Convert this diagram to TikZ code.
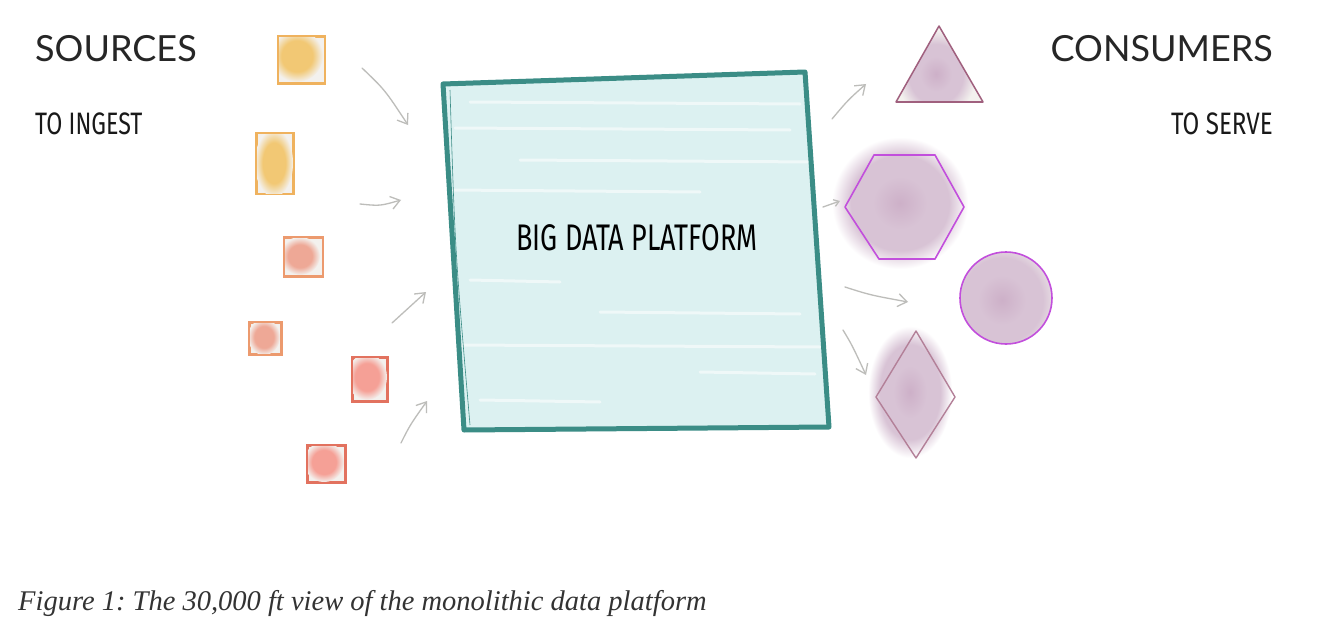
\documentclass[tikz,border=0pt]{standalone}
\usepackage{fontspec}
\setmainfont{Lato}
\newfontfamily\condfont{Fira Sans}
\newfontfamily\capserif{Liberation Serif}
\usetikzlibrary{arrows.meta}
\frenchspacing
\definecolor{teal1}{HTML}{3B8D86}
\definecolor{tealfill}{HTML}{D3EDEE}
\definecolor{srcY}{HTML}{EFB25E}
\definecolor{srcYb}{HTML}{F2C874}
\definecolor{srcO}{HTML}{EC9A6E}
\definecolor{srcOb}{HTML}{EEA896}
\definecolor{srcR}{HTML}{E2725F}
\definecolor{srcRb}{HTML}{F5A096}
\definecolor{purpB}{HTML}{A0607E}
\definecolor{purpV}{HTML}{C24FDC}
\definecolor{blob}{HTML}{D8C3D5}
\definecolor{blobd}{HTML}{CDB0C8}
\definecolor{arrowgrey}{HTML}{BDBDBA}
\definecolor{boxbg}{HTML}{F3F1EE}
\pgfdeclareradialshading{shY}{\pgfpointorigin}{color(0bp)=(srcYb); color(15bp)=(srcYb); color(25bp)=(boxbg); color(50bp)=(boxbg)}
\pgfdeclareradialshading{shO}{\pgfpointorigin}{color(0bp)=(srcOb); color(15bp)=(srcOb); color(25bp)=(boxbg); color(50bp)=(boxbg)}
\pgfdeclareradialshading{shR}{\pgfpointorigin}{color(0bp)=(srcRb); color(15bp)=(srcRb); color(25bp)=(boxbg); color(50bp)=(boxbg)}
\pgfdeclareradialshading{shP}{\pgfpointorigin}{color(0bp)=(blobd); color(10bp)=(blob); color(17bp)=(blob); color(25bp)=(boxbg); color(50bp)=(boxbg)}
\pgfdeclareradialshading{shPw}{\pgfpointorigin}{color(0bp)=(blobd); color(10bp)=(blob); color(18bp)=(blob); color(25bp)=(white); color(50bp)=(white)}
\tikzset{
  heading/.style={font=\fontsize{36}{36}\selectfont, text=black!85, inner sep=0pt},
  sublabel/.style={font=\condfont\fontsize{31}{31}\selectfont, text=black!90, inner sep=0pt},
  srcbox/.style={draw=#1, line width=1.6pt, fill=boxbg, inner sep=0pt},
  flow/.style={draw=arrowgrey, line width=1.3pt, line cap=round, -{Straight Barb[length=9pt,width=13pt]}},
}
\begin{document}
\begin{tikzpicture}[x=1pt,y=-1pt]
\useasboundingbox (0,0) rectangle (1318,634);
\fill[white] (0,0) rectangle (1318,634);

% headings
\node[heading, anchor=north west] (hsrc) at (35,35) {SOURCES};
\node[sublabel, anchor=north west] (hing) at (35,113) {\scalebox{0.75}[1]{TO INGEST}};
\node[heading, anchor=north east] (hcons) at (1273,35) {CONSUMERS};
\node[sublabel, anchor=north east] (hserve) at (1273,113) {\scalebox{0.78}[1]{TO SERVE}};

% hexagon blob (behind platform edge)
\shade[shading=shPw] (900,203) ellipse (68pt and 66pt);

% big data platform
\coordinate (p1) at (443,84);
\coordinate (p2) at (805,72);
\coordinate (p3) at (829,427);
\coordinate (p4) at (464,430);
\fill[tealfill!80!white] (p1) -- (p2) -- (p3) -- (p4) -- cycle;
\begin{scope}
\clip (p1) -- (p2) -- (p3) -- (p4) -- cycle;
\foreach \yy/\a/\b in {102/470/800,128/455/790,160/520/815,190/450/700,280/470/560,312/600/800,345/460/820,372/700/815,400/480/600}{
  \draw[white, line width=3pt, opacity=0.55, line cap=round] (\a,\yy) -- (\b,\yy+2);
}
\end{scope}
\draw[teal1, line width=5pt, line join=round] (p1) -- (p2) -- (p3) -- (p4) -- cycle;
\draw[teal1, line width=0.6pt] (450,90) .. controls (455,250) .. (470,425);
\node[font=\condfont\fontsize{37}{37}\selectfont, inner sep=0pt] (bdp) at (637,238) {\scalebox{0.73}[1]{BIG DATA PLATFORM}};

% sources
\node[srcbox=srcY, minimum width=46pt, minimum height=46pt] (s1) at (301.5,60) {};
\begin{scope}\clip (s1.north west) rectangle (s1.south east);
\shade[shading=shY] (297,56) ellipse (26pt and 26pt);\end{scope}
\draw[srcY, line width=1.6pt] (s1.north west) rectangle (s1.south east);

\node[srcbox=srcY, minimum width=36pt, minimum height=60pt] (s2) at (275,163.5) {};
\begin{scope}\clip (s2.north west) rectangle (s2.south east);
\shade[shading=shY] (274,163) ellipse (19pt and 34pt);
\end{scope}
\draw[srcY, line width=1.6pt] (s2.north west) rectangle (s2.south east);

\node[srcbox=srcO, minimum width=38pt, minimum height=38pt] (s3) at (303.5,257) {};
\begin{scope}\clip (s3.north west) rectangle (s3.south east);
\shade[shading=shO] (300,256) ellipse (20pt and 19pt);\end{scope}
\draw[srcO, line width=1.6pt] (s3.north west) rectangle (s3.south east);

\node[srcbox=srcO, minimum width=31pt, minimum height=31pt] (s4) at (265.5,338.5) {};
\begin{scope}\clip (s4.north west) rectangle (s4.south east);
\shade[shading=shO] (264,337) ellipse (16pt and 18pt);\end{scope}
\draw[srcO, line width=1.6pt] (s4.north west) rectangle (s4.south east);

\node[srcbox=srcR, minimum width=34pt, minimum height=43pt] (s5) at (370,379.5) {};
\begin{scope}\clip (s5.north west) rectangle (s5.south east);
\shade[shading=shR] (367,377) ellipse (20pt and 23pt);\end{scope}
\draw[srcR, line width=1.6pt] (s5.north west) rectangle (s5.south east);

\node[srcbox=srcR, minimum width=37pt, minimum height=36pt] (s6) at (326.5,464) {};
\begin{scope}\clip (s6.north west) rectangle (s6.south east);
\shade[shading=shR] (324,462) ellipse (20pt and 20pt);\end{scope}
\draw[srcR, line width=1.6pt] (s6.north west) rectangle (s6.south east);

% arrows into platform
\coordinate (a1s) at (362,68);  \coordinate (a1e) at (408,125);
\coordinate (a2s) at (360,204); \coordinate (a2e) at (401,200);
\coordinate (a3s) at (392,323); \coordinate (a3e) at (426,292);
\coordinate (a4s) at (401,443); \coordinate (a4e) at (427,401);
\draw[flow] (a1s) .. controls (385,90) .. (a1e);
\draw[flow] (a2s) .. controls (380,206) .. (a2e);
\draw[flow] (a3s) -- (a3e);
\draw[flow] (a4s) .. controls (410,425) .. (a4e);

% arrows out of platform
\coordinate (b1s) at (832,119); \coordinate (b1e) at (866,84);
\coordinate (b2s) at (823,207); \coordinate (b2e) at (840,201);
\coordinate (b3s) at (845,287); \coordinate (b3e) at (908,302);
\coordinate (b4s) at (843,330); \coordinate (b4e) at (866,375);
\draw[flow] (b1s) .. controls (848,100) .. (b1e);
\draw[flow, -{Straight Barb[length=5pt,width=7pt]}] (b2s) -- (b2e);
\draw[flow] (b3s) .. controls (870,295) .. (b3e);
\draw[flow] (b4s) .. controls (852,345) .. (b4e);

% consumers
% triangle
\coordinate (t1) at (939,26); \coordinate (t2) at (983,102); \coordinate (t3) at (896,102);
\fill[boxbg] (t1) -- (t2) -- (t3) -- cycle;
\begin{scope}
\clip (t1) -- (t2) -- (t3) -- cycle;
\shade[shading=shP] (936,74) ellipse (40pt and 44pt);
\end{scope}
\draw[purpB, line width=1.5pt, line join=round] (t1) -- (t2) -- (t3) -- cycle;
\node[inner sep=0pt] (tri) at (939,75) {};
% hexagon
\coordinate (h1) at (874,155); \coordinate (h2) at (935,155); \coordinate (h3) at (964,207);
\coordinate (h4) at (935,259); \coordinate (h5) at (879,259); \coordinate (h6) at (845,207);
\draw[purpV, line width=1.6pt, line join=round] (h1) -- (h2) -- (h3) -- (h4) -- (h5) -- (h6) -- cycle;
\node[inner sep=0pt] (hex) at (905,207) {};
% circle
\fill[boxbg] (1006,298) circle (46pt);
\begin{scope}
\clip (1006,298) circle (46pt);
\shade[shading=shP] (1002,300) ellipse (60pt and 62pt);
\end{scope}
\node[draw=purpV, line width=1.6pt, circle, minimum size=92pt, inner sep=0pt] (circ) at (1006,298) {};
% diamond
\coordinate (d1) at (916,331); \coordinate (d2) at (955,397); \coordinate (d3) at (916,458); \coordinate (d4) at (876,397);
\shade[shading=shPw] (910,392) ellipse (42pt and 66pt);
\draw[purpB!80, line width=1.4pt, line join=round] (d1) -- (d2) -- (d3) -- (d4) -- cycle;
\node[inner sep=0pt] (dia) at (916,395) {};

% caption
\node[anchor=west, inner sep=0pt, font=\capserif\itshape\fontsize{28.5}{28.5}\selectfont, text=black!80] (cap) at (18,603) {Figure 1: The 30,000 ft view of the monolithic data platform};
\end{tikzpicture}
\end{document}
